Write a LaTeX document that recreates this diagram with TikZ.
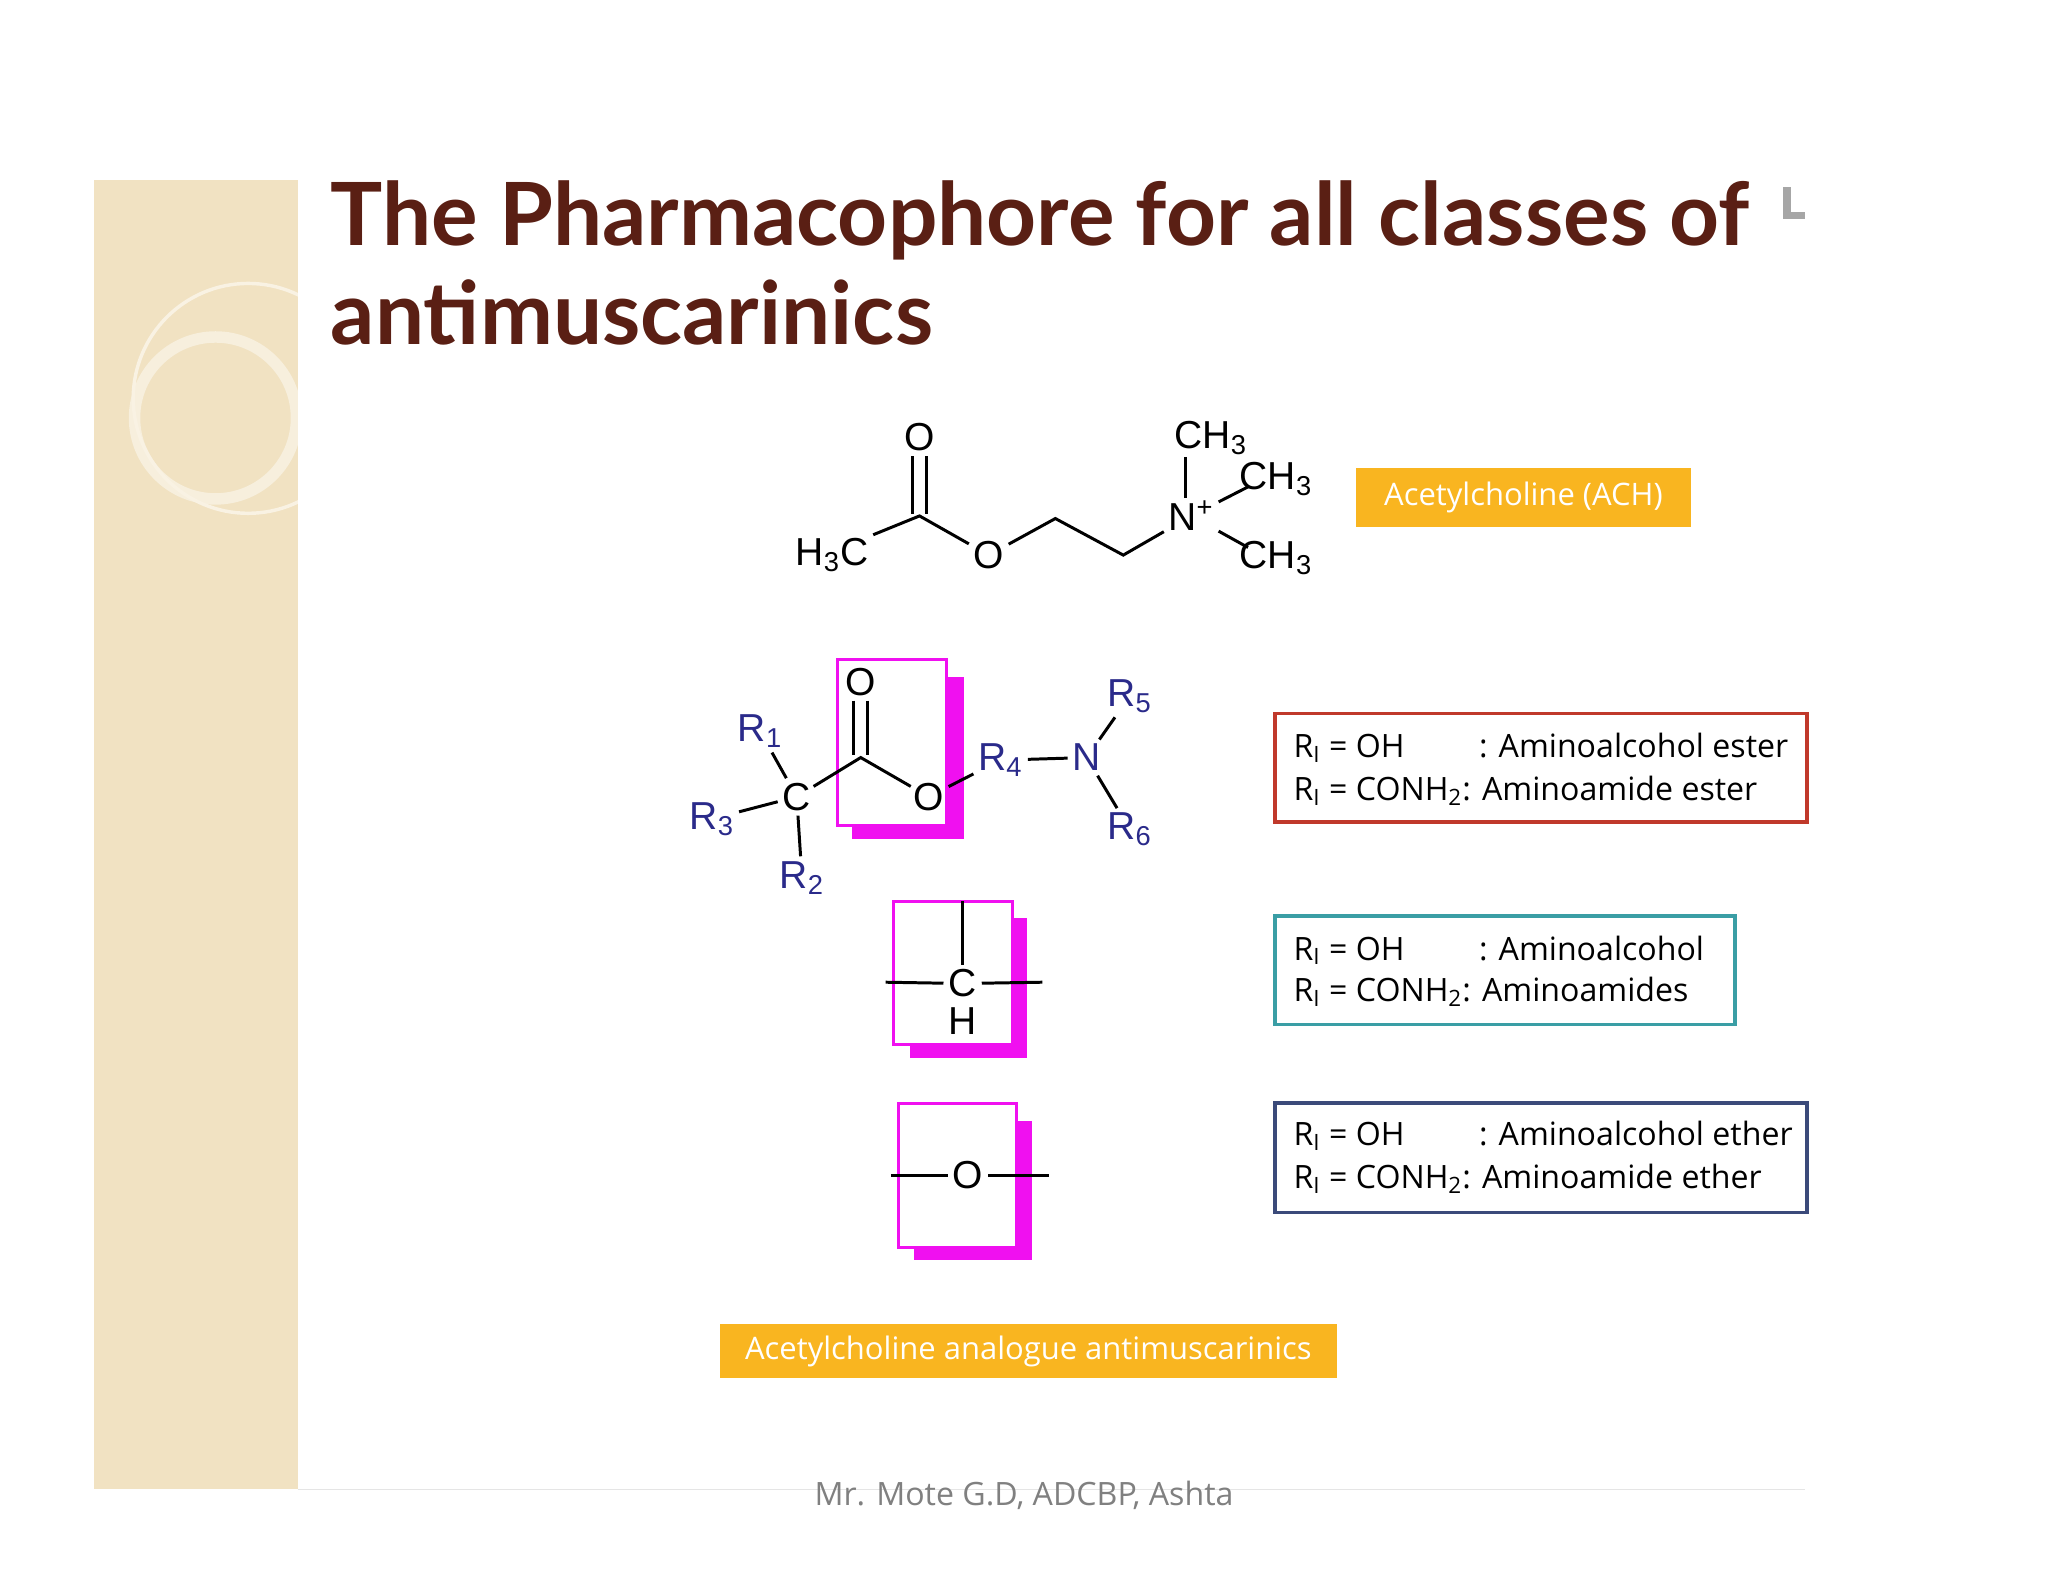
\documentclass[tikz,border=0pt]{standalone}
\usepackage{fontspec}
\setmainfont{Liberation Sans}
\newfontfamily\titlefont{Lato}
\newfontfamily\boxfont{Open Sans}
\definecolor{panel}{HTML}{F1E2C2}
\definecolor{ttl}{HTML}{5A1F14}
\definecolor{orng}{HTML}{F9B520}
\definecolor{mag}{HTML}{F010F0}
\definecolor{navyR}{HTML}{2A2A8A}
\definecolor{redb}{HTML}{C0392B}
\definecolor{tealb}{HTML}{3A9EA5}
\definecolor{navb}{HTML}{3B4A7A}
\newcommand{\sbs}[1]{\textsubscript{#1}}
\tikzset{
 atm/.style={inner sep=1pt,font=\fontsize{17}{17}\selectfont},
 rt/.style={atm,text=navyR},
 bd/.style={line width=1.3pt,shorten <=1pt,shorten >=1pt},
 tag/.style={fill=orng,text=white,font=\boxfont\fontsize{13.5}{13.5}\selectfont,inner sep=0pt},
 bt/.style={anchor=base west,inner sep=0pt,font=\boxfont\fontsize{14}{14}\selectfont},
 mshadow/.style={fill=mag,draw=none},
 mbox/.style={fill=white,draw=mag,line width=1.3pt}
}
\begin{document}
\begin{tikzpicture}[x=0.02cm,y=-0.02cm]
\useasboundingbox (0,0) rectangle (1568,1213);
\fill[white] (0,0) rectangle (1568,1213);
% side panel
\fill[panel] (72,138) rectangle (228,1140);
\begin{scope}
\clip (72,138) rectangle (228,1140);
\draw[white!45!panel,line width=5pt] (165,320) circle (62);
\draw[white!55!panel,line width=1.5pt] (190,305) circle (88);
\end{scope}
\draw[gray!20] (228,1140) -- (1382,1140);
% title
\node[anchor=base west,inner sep=0pt,text=ttl,font=\titlefont\bfseries\fontsize{38}{38}\selectfont] (t1) at (253,188) {The Pharmacophore for all classes of};
\node[anchor=base west,inner sep=0pt,text=ttl,font=\titlefont\bfseries\fontsize{38}{38}\selectfont] (t2) at (253,264) {antimuscarinics};
\fill[gray!70] (1365,143) rectangle (1371,168);
\fill[gray!70] (1371,162) rectangle (1382,168);
% acetylcholine
\node[atm] (aO1) at (704,335) {O};
\coordinate (aC1) at (704,395);
\node[atm] (aMe) at (637,425) {H\sbs{3}C};
\node[atm] (aO2) at (757,425) {O};
\coordinate (aC2) at (808,397);
\coordinate (aC3) at (860,425);
\node[atm] (aN) at (912,395) {N\textsuperscript{+}};
\node[atm] (aM1) at (927,335) {CH\sbs{3}};
\node[atm] (aM2) at (977,367) {CH\sbs{3}};
\node[atm] (aM3) at (977,427) {CH\sbs{3}};
\draw[bd] ([xshift=-3]aO1.south) -- ([xshift=-3]aC1);
\draw[bd] ([xshift=3]aO1.south) -- ([xshift=3]aC1);
\draw[bd] (aMe.north east) -- (aC1) -- (aO2);
\draw[bd] (aO2) -- (aC2) -- (aC3) -- (aN);
\draw[bd] (908,348) -- (908,383);
\draw[bd] (aN) -- (957,372);
\draw[bd] (aN) -- (957,420);
\node[tag,minimum width=256*0.02cm,minimum height=45*0.02cm,anchor=north west] (ach) at (1038,358) {Acetylcholine (ACH)};
% generic structure
\fill[mshadow] (652,518) rectangle (738,642);
\draw[mbox] (641,505) rectangle (725,632);
\node[atm] (C) at (610,610) {C};
\node[rt] (R1) at (582,560) {R\sbs{1}};
\node[rt] (R3) at (545,627) {R\sbs{3}};
\node[rt] (R2) at (614,672) {R\sbs{2}};
\coordinate (Cc) at (659,580);
\node[atm] (Ot) at (659,522) {O};
\node[atm] (Oe) at (711,610) {O};
\node[rt] (R4) at (766,582) {R\sbs{4}};
\node[rt] (N) at (832,580) {N};
\node[rt] (R5) at (865,533) {R\sbs{5}};
\node[rt] (R6) at (865,635) {R\sbs{6}};
\draw[bd] (R1) -- (C); \draw[bd] (R3) -- (C); \draw[bd] (C) -- (R2);
\draw[bd] (C) -- (Cc) -- (Oe) -- (R4);
\draw[bd] ([xshift=-3]Ot.south) -- ([xshift=-3]Cc);
\draw[bd] ([xshift=3]Ot.south) -- ([xshift=3]Cc);
\draw[bd] (R4) -- (N); \draw[bd] (N) -- (R5); \draw[bd] (N) -- (R6);
% CH box
\fill[mshadow] (697,703) rectangle (786,810);
\draw[mbox] (684,690) rectangle (775,800);
\node[atm] (C2) at (737,753) {C};
\node[atm] (H2) at (737,782) {H};
\coordinate (c2t) at (737,690);
\coordinate (c2l) at (678,752);
\coordinate (c2r) at (798,752);
\draw[bd,shorten <=0pt] (c2t) -- (C2);
\draw[bd,shorten <=0pt] (c2l) -- (C2);
\draw[bd,shorten <=0pt] (c2r) -- (C2);
% ether box
\fill[mshadow] (700,858) rectangle (790,965);
\draw[mbox] (688,845) rectangle (778,955);
\node[atm] (O3) at (741,900) {O};
\coordinate (o3l) at (682,900);
\coordinate (o3r) at (803,900);
\draw[bd,shorten <=0pt] (o3l) -- (O3);
\draw[bd,shorten <=0pt] (o3r) -- (O3);
% class boxes
\node[draw=redb,line width=1.5pt,anchor=north west,minimum width=407*0.02cm,minimum height=83*0.02cm,inner sep=0pt] (b1) at (975,545) {};
\node[draw=tealb,line width=1.5pt,anchor=north west,minimum width=352*0.02cm,minimum height=83*0.02cm,inner sep=0pt] (b2) at (975,700) {};
\node[draw=navb,line width=1.5pt,anchor=north west,minimum width=407*0.02cm,minimum height=84*0.02cm,inner sep=0pt] (b3) at (975,843) {};
\node[bt] (b1a) at (990,580) {R\sbs{I} = OH};
\node[bt] (b1b) at (1132,580) {: Aminoalcohol ester};
\node[bt] (b1c) at (990,613) {R\sbs{I} = CONH\sbs{2}: Aminoamide ester};
\node[bt] (b2a) at (990,735) {R\sbs{I} = OH};
\node[bt] (b2b) at (1132,735) {: Aminoalcohol};
\node[bt] (b2c) at (990,767) {R\sbs{I} = CONH\sbs{2}: Aminoamides};
\node[bt] (b3a) at (990,877) {R\sbs{I} = OH};
\node[bt] (b3b) at (1132,877) {: Aminoalcohol ether};
\node[bt] (b3c) at (990,910) {R\sbs{I} = CONH\sbs{2}: Aminoamide ether};
\node[tag,minimum width=472*0.02cm,minimum height=42*0.02cm,anchor=north west] (ana) at (551,1013) {Acetylcholine analogue antimuscarinics};
\node[text=gray,font=\boxfont\fontsize{14}{14}\selectfont] (foot) at (784,1145) {Mr. Mote G.D, ADCBP, Ashta};
\end{tikzpicture}
\end{document}
